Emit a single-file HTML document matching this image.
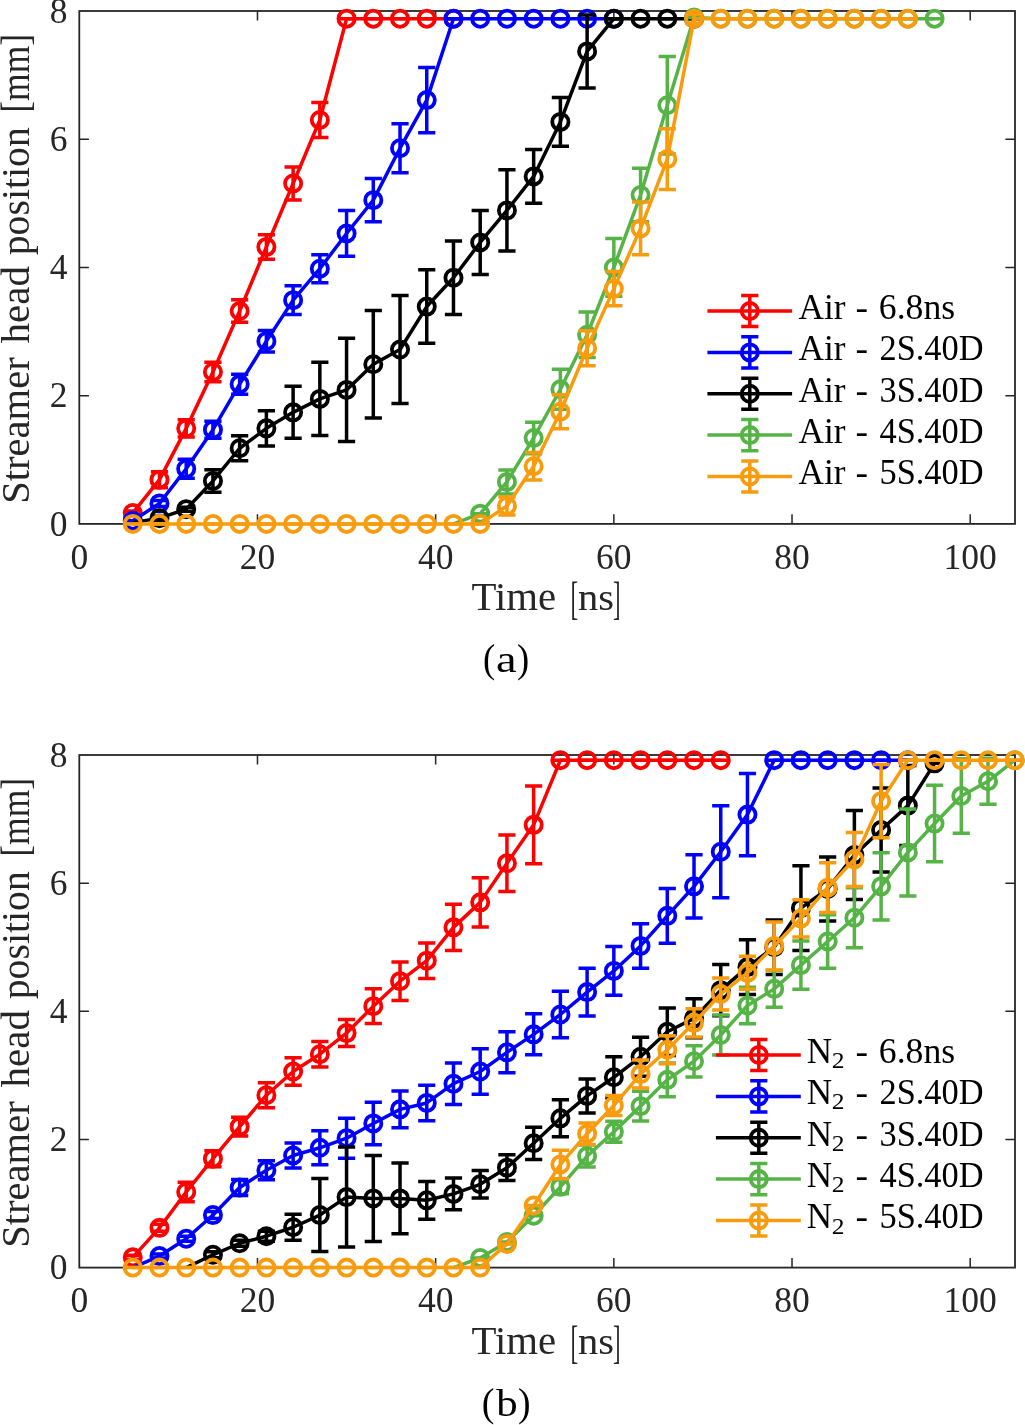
<!DOCTYPE html>
<html><head><meta charset="utf-8"><title>Streamer head position</title><style>
html,body{margin:0;padding:0;background:#fff;width:1025px;height:1425px;overflow:hidden}
svg{display:block;will-change:transform}
text{font-family:'Liberation Serif',serif;fill:#000}
.tk{font-size:35.5px;fill:#262626}
.lb{font-size:38px;fill:#262626}
.lg{font-size:31px}
.sub{font-size:22px}
.cp{font-size:36px}
</style></head><body>
<svg width="1025" height="1425" viewBox="0 0 1025 1425">
<rect width="100%" height="100%" fill="#fff"/>
<rect x="79.3" y="11" width="935.7" height="512.9" fill="none" stroke="#262626" stroke-width="1.8"/>
<path d="M257.48 523.9V514.3M257.48 11V20.6M435.66 523.9V514.3M435.66 11V20.6M613.84 523.9V514.3M613.84 11V20.6M792.02 523.9V514.3M792.02 11V20.6M970.2 523.9V514.3M970.2 11V20.6M79.3 395.67H88.9M1015 395.67H1005.4M79.3 267.45H88.9M1015 267.45H1005.4M79.3 139.23H88.9M1015 139.23H1005.4" stroke="#262626" stroke-width="1.5" fill="none"/>
<text x="79.3" y="568.7" text-anchor="middle" class="tk">0</text>
<text x="257.48" y="568.7" text-anchor="middle" class="tk">20</text>
<text x="435.66" y="568.7" text-anchor="middle" class="tk">40</text>
<text x="613.84" y="568.7" text-anchor="middle" class="tk">60</text>
<text x="792.02" y="568.7" text-anchor="middle" class="tk">80</text>
<text x="970.2" y="568.7" text-anchor="middle" class="tk">100</text>
<text x="67.5" y="535.7" text-anchor="end" class="tk">0</text>
<text x="67.5" y="407.47" text-anchor="end" class="tk">2</text>
<text x="67.5" y="279.25" text-anchor="end" class="tk">4</text>
<text x="67.5" y="151.03" text-anchor="end" class="tk">6</text>
<text x="67.5" y="22.8" text-anchor="end" class="tk">8</text>
<g stroke="#ff0000" fill="none"><path d="M132.75 513 L159.48 479.66 L186.21 428.37 L212.94 371.95 L239.66 311.05 L266.39 246.93 L293.12 183.46 L319.84 119.99 L346.57 18.69 L373.3 18.69 L400.02 18.69 L426.75 18.69 L453.48 18.69" stroke-width="3.5" stroke-linejoin="round"/><path d="M132.75 511V515M124.15 511H141.35M124.15 515H141.35M159.48 471.66V487.66M150.88 471.66H168.08M150.88 487.66H168.08M186.21 419.67V437.07M177.61 419.67H194.81M177.61 437.07H194.81M212.94 362.15V381.75M204.34 362.15H221.53M204.34 381.75H221.53M239.66 299.85V322.25M231.06 299.85H248.26M231.06 322.25H248.26M266.39 234.73V259.13M257.79 234.73H274.99M257.79 259.13H274.99M293.12 166.96V199.96M284.52 166.96H301.72M284.52 199.96H301.72M319.84 102.59V137.39M311.24 102.59H328.44M311.24 137.39H328.44M346.57 18.69V18.69M337.97 18.69H355.17M337.97 18.69H355.17M373.3 18.69V18.69M364.7 18.69H381.9M364.7 18.69H381.9M400.02 18.69V18.69M391.42 18.69H408.62M391.42 18.69H408.62M426.75 18.69V18.69M418.15 18.69H435.35M418.15 18.69H435.35M453.48 18.69V18.69M444.88 18.69H462.08M444.88 18.69H462.08" stroke-width="3.5"/><path d="M124.65 513a8.1 8.1 0 1 0 16.2 0a8.1 8.1 0 1 0 -16.2 0M151.38 479.66a8.1 8.1 0 1 0 16.2 0a8.1 8.1 0 1 0 -16.2 0M178.11 428.37a8.1 8.1 0 1 0 16.2 0a8.1 8.1 0 1 0 -16.2 0M204.84 371.95a8.1 8.1 0 1 0 16.2 0a8.1 8.1 0 1 0 -16.2 0M231.56 311.05a8.1 8.1 0 1 0 16.2 0a8.1 8.1 0 1 0 -16.2 0M258.29 246.93a8.1 8.1 0 1 0 16.2 0a8.1 8.1 0 1 0 -16.2 0M285.02 183.46a8.1 8.1 0 1 0 16.2 0a8.1 8.1 0 1 0 -16.2 0M311.74 119.99a8.1 8.1 0 1 0 16.2 0a8.1 8.1 0 1 0 -16.2 0M338.47 18.69a8.1 8.1 0 1 0 16.2 0a8.1 8.1 0 1 0 -16.2 0M365.2 18.69a8.1 8.1 0 1 0 16.2 0a8.1 8.1 0 1 0 -16.2 0M391.92 18.69a8.1 8.1 0 1 0 16.2 0a8.1 8.1 0 1 0 -16.2 0M418.65 18.69a8.1 8.1 0 1 0 16.2 0a8.1 8.1 0 1 0 -16.2 0M445.38 18.69a8.1 8.1 0 1 0 16.2 0a8.1 8.1 0 1 0 -16.2 0" stroke-width="3.8"/></g>
<g stroke="#0000ff" fill="none"><path d="M132.75 520.69 L159.48 503.38 L186.21 468.76 L212.94 429.65 L239.66 384.13 L266.39 341.18 L293.12 300.15 L319.84 268.73 L346.57 233.47 L373.3 200.13 L400.02 148.2 L426.75 100.12 L453.48 18.69 L480.2 18.69 L506.93 18.69 L533.66 18.69 L560.39 18.69 L587.11 18.69 L613.84 18.69" stroke-width="3.5" stroke-linejoin="round"/><path d="M132.75 520.69V520.69M124.15 520.69H141.35M124.15 520.69H141.35M159.48 500.38V506.38M150.88 500.38H168.08M150.88 506.38H168.08M186.21 459.26V478.26M177.61 459.26H194.81M177.61 478.26H194.81M212.94 421.15V438.15M204.34 421.15H221.53M204.34 438.15H221.53M239.66 374.13V394.13M231.06 374.13H248.26M231.06 394.13H248.26M266.39 330.48V351.88M257.79 330.48H274.99M257.79 351.88H274.99M293.12 285.75V314.55M284.52 285.75H301.72M284.52 314.55H301.72M319.84 254.73V282.73M311.24 254.73H328.44M311.24 282.73H328.44M346.57 210.57V256.37M337.97 210.57H355.17M337.97 256.37H355.17M373.3 178.53V221.73M364.7 178.53H381.9M364.7 221.73H381.9M400.02 123.7V172.7M391.42 123.7H408.62M391.42 172.7H408.62M426.75 67.42V132.82M418.15 67.42H435.35M418.15 132.82H435.35M453.48 18.69V18.69M444.88 18.69H462.08M444.88 18.69H462.08M480.2 18.69V18.69M471.6 18.69H488.81M471.6 18.69H488.81M506.93 18.69V18.69M498.33 18.69H515.53M498.33 18.69H515.53M533.66 18.69V18.69M525.06 18.69H542.26M525.06 18.69H542.26M560.39 18.69V18.69M551.79 18.69H568.99M551.79 18.69H568.99M587.11 18.69V18.69M578.51 18.69H595.71M578.51 18.69H595.71M613.84 18.69V18.69M605.24 18.69H622.44M605.24 18.69H622.44" stroke-width="3.5"/><path d="M124.65 520.69a8.1 8.1 0 1 0 16.2 0a8.1 8.1 0 1 0 -16.2 0M151.38 503.38a8.1 8.1 0 1 0 16.2 0a8.1 8.1 0 1 0 -16.2 0M178.11 468.76a8.1 8.1 0 1 0 16.2 0a8.1 8.1 0 1 0 -16.2 0M204.84 429.65a8.1 8.1 0 1 0 16.2 0a8.1 8.1 0 1 0 -16.2 0M231.56 384.13a8.1 8.1 0 1 0 16.2 0a8.1 8.1 0 1 0 -16.2 0M258.29 341.18a8.1 8.1 0 1 0 16.2 0a8.1 8.1 0 1 0 -16.2 0M285.02 300.15a8.1 8.1 0 1 0 16.2 0a8.1 8.1 0 1 0 -16.2 0M311.74 268.73a8.1 8.1 0 1 0 16.2 0a8.1 8.1 0 1 0 -16.2 0M338.47 233.47a8.1 8.1 0 1 0 16.2 0a8.1 8.1 0 1 0 -16.2 0M365.2 200.13a8.1 8.1 0 1 0 16.2 0a8.1 8.1 0 1 0 -16.2 0M391.92 148.2a8.1 8.1 0 1 0 16.2 0a8.1 8.1 0 1 0 -16.2 0M418.65 100.12a8.1 8.1 0 1 0 16.2 0a8.1 8.1 0 1 0 -16.2 0M445.38 18.69a8.1 8.1 0 1 0 16.2 0a8.1 8.1 0 1 0 -16.2 0M472.1 18.69a8.1 8.1 0 1 0 16.2 0a8.1 8.1 0 1 0 -16.2 0M498.83 18.69a8.1 8.1 0 1 0 16.2 0a8.1 8.1 0 1 0 -16.2 0M525.56 18.69a8.1 8.1 0 1 0 16.2 0a8.1 8.1 0 1 0 -16.2 0M552.29 18.69a8.1 8.1 0 1 0 16.2 0a8.1 8.1 0 1 0 -16.2 0M579.01 18.69a8.1 8.1 0 1 0 16.2 0a8.1 8.1 0 1 0 -16.2 0M605.74 18.69a8.1 8.1 0 1 0 16.2 0a8.1 8.1 0 1 0 -16.2 0" stroke-width="3.8"/></g>
<g stroke="#000000" fill="none"><path d="M132.75 522.62 L159.48 518.13 L186.21 509.15 L212.94 480.94 L239.66 448.25 L266.39 428.37 L293.12 412.34 L319.84 398.88 L346.57 389.9 L373.3 364.26 L400.02 349.51 L426.75 306.56 L453.48 277.71 L480.2 242.45 L506.93 210.39 L533.66 176.41 L560.39 121.91 L587.11 51.39 L613.84 18.69 L640.57 18.69 L667.29 18.69 L694.02 18.69" stroke-width="3.5" stroke-linejoin="round"/><path d="M159.48 516.13V520.13M150.88 516.13H168.08M150.88 520.13H168.08M186.21 507.15V511.15M177.61 507.15H194.81M177.61 511.15H194.81M212.94 469.64V492.24M204.34 469.64H221.53M204.34 492.24H221.53M239.66 435.75V460.75M231.06 435.75H248.26M231.06 460.75H248.26M266.39 410.67V446.07M257.79 410.67H274.99M257.79 446.07H274.99M293.12 386.34V438.34M284.52 386.34H301.72M284.52 438.34H301.72M319.84 362.18V435.58M311.24 362.18H328.44M311.24 435.58H328.44M346.57 338.2V441.6M337.97 338.2H355.17M337.97 441.6H355.17M373.3 310.56V417.96M364.7 310.56H381.9M364.7 417.96H381.9M400.02 295.61V403.41M391.42 295.61H408.62M391.42 403.41H408.62M426.75 269.76V343.36M418.15 269.76H435.35M418.15 343.36H435.35M453.48 240.91V314.51M444.88 240.91H462.08M444.88 314.51H462.08M480.2 210.45V274.45M471.6 210.45H488.81M471.6 274.45H488.81M506.93 169.79V250.99M498.33 169.79H515.53M498.33 250.99H515.53M533.66 149.51V203.31M525.06 149.51H542.26M525.06 203.31H542.26M560.39 97.51V146.31M551.79 97.51H568.99M551.79 146.31H568.99M587.11 14.89V87.89M578.51 14.89H595.71M578.51 87.89H595.71M613.84 18.69V18.69M605.24 18.69H622.44M605.24 18.69H622.44M640.57 18.69V18.69M631.97 18.69H649.17M631.97 18.69H649.17M667.29 18.69V18.69M658.69 18.69H675.89M658.69 18.69H675.89M694.02 18.69V18.69M685.42 18.69H702.62M685.42 18.69H702.62" stroke-width="3.5"/><path d="M151.38 518.13a8.1 8.1 0 1 0 16.2 0a8.1 8.1 0 1 0 -16.2 0M178.11 509.15a8.1 8.1 0 1 0 16.2 0a8.1 8.1 0 1 0 -16.2 0M204.84 480.94a8.1 8.1 0 1 0 16.2 0a8.1 8.1 0 1 0 -16.2 0M231.56 448.25a8.1 8.1 0 1 0 16.2 0a8.1 8.1 0 1 0 -16.2 0M258.29 428.37a8.1 8.1 0 1 0 16.2 0a8.1 8.1 0 1 0 -16.2 0M285.02 412.34a8.1 8.1 0 1 0 16.2 0a8.1 8.1 0 1 0 -16.2 0M311.74 398.88a8.1 8.1 0 1 0 16.2 0a8.1 8.1 0 1 0 -16.2 0M338.47 389.9a8.1 8.1 0 1 0 16.2 0a8.1 8.1 0 1 0 -16.2 0M365.2 364.26a8.1 8.1 0 1 0 16.2 0a8.1 8.1 0 1 0 -16.2 0M391.92 349.51a8.1 8.1 0 1 0 16.2 0a8.1 8.1 0 1 0 -16.2 0M418.65 306.56a8.1 8.1 0 1 0 16.2 0a8.1 8.1 0 1 0 -16.2 0M445.38 277.71a8.1 8.1 0 1 0 16.2 0a8.1 8.1 0 1 0 -16.2 0M472.1 242.45a8.1 8.1 0 1 0 16.2 0a8.1 8.1 0 1 0 -16.2 0M498.83 210.39a8.1 8.1 0 1 0 16.2 0a8.1 8.1 0 1 0 -16.2 0M525.56 176.41a8.1 8.1 0 1 0 16.2 0a8.1 8.1 0 1 0 -16.2 0M552.29 121.91a8.1 8.1 0 1 0 16.2 0a8.1 8.1 0 1 0 -16.2 0M579.01 51.39a8.1 8.1 0 1 0 16.2 0a8.1 8.1 0 1 0 -16.2 0M605.74 18.69a8.1 8.1 0 1 0 16.2 0a8.1 8.1 0 1 0 -16.2 0M632.47 18.69a8.1 8.1 0 1 0 16.2 0a8.1 8.1 0 1 0 -16.2 0M659.19 18.69a8.1 8.1 0 1 0 16.2 0a8.1 8.1 0 1 0 -16.2 0M685.92 18.69a8.1 8.1 0 1 0 16.2 0a8.1 8.1 0 1 0 -16.2 0" stroke-width="3.8"/></g>
<g stroke="#56b447" fill="none"><path d="M453.48 523.9 L480.2 513.64 L506.93 481.91 L533.66 437.99 L560.39 389.26 L587.11 334.77 L613.84 267.45 L640.57 195 L667.29 105.25 L694.02 17.41 L720.75 18.69 L747.47 18.69 L774.2 18.69 L800.93 18.69 L827.66 18.69 L854.38 18.69 L881.11 18.69 L907.84 18.69 L934.56 18.69" stroke-width="3.5" stroke-linejoin="round"/><path d="M480.2 513.64V513.64M471.6 513.64H488.81M471.6 513.64H488.81M506.93 469.91V493.91M498.33 469.91H515.53M498.33 493.91H515.53M533.66 422.29V453.69M525.06 422.29H542.26M525.06 453.69H542.26M560.39 369.26V409.26M551.79 369.26H568.99M551.79 409.26H568.99M587.11 312.07V357.47M578.51 312.07H595.71M578.51 357.47H595.71M613.84 238.55V296.35M605.24 238.55H622.44M605.24 296.35H622.44M640.57 168.2V221.8M631.97 168.2H649.17M631.97 221.8H649.17M667.29 56.45V154.05M658.69 56.45H675.89M658.69 154.05H675.89M694.02 17.41V17.41M685.42 17.41H702.62M685.42 17.41H702.62M720.75 18.69V18.69M712.15 18.69H729.35M712.15 18.69H729.35M747.47 18.69V18.69M738.87 18.69H756.07M738.87 18.69H756.07M774.2 18.69V18.69M765.6 18.69H782.8M765.6 18.69H782.8M800.93 18.69V18.69M792.33 18.69H809.53M792.33 18.69H809.53M827.66 18.69V18.69M819.06 18.69H836.26M819.06 18.69H836.26M854.38 18.69V18.69M845.78 18.69H862.98M845.78 18.69H862.98M881.11 18.69V18.69M872.51 18.69H889.71M872.51 18.69H889.71M907.84 18.69V18.69M899.24 18.69H916.44M899.24 18.69H916.44M934.56 18.69V18.69M925.96 18.69H943.16M925.96 18.69H943.16" stroke-width="3.5"/><path d="M472.1 513.64a8.1 8.1 0 1 0 16.2 0a8.1 8.1 0 1 0 -16.2 0M498.83 481.91a8.1 8.1 0 1 0 16.2 0a8.1 8.1 0 1 0 -16.2 0M525.56 437.99a8.1 8.1 0 1 0 16.2 0a8.1 8.1 0 1 0 -16.2 0M552.29 389.26a8.1 8.1 0 1 0 16.2 0a8.1 8.1 0 1 0 -16.2 0M579.01 334.77a8.1 8.1 0 1 0 16.2 0a8.1 8.1 0 1 0 -16.2 0M605.74 267.45a8.1 8.1 0 1 0 16.2 0a8.1 8.1 0 1 0 -16.2 0M632.47 195a8.1 8.1 0 1 0 16.2 0a8.1 8.1 0 1 0 -16.2 0M659.19 105.25a8.1 8.1 0 1 0 16.2 0a8.1 8.1 0 1 0 -16.2 0M685.92 17.41a8.1 8.1 0 1 0 16.2 0a8.1 8.1 0 1 0 -16.2 0M712.65 18.69a8.1 8.1 0 1 0 16.2 0a8.1 8.1 0 1 0 -16.2 0M739.37 18.69a8.1 8.1 0 1 0 16.2 0a8.1 8.1 0 1 0 -16.2 0M766.1 18.69a8.1 8.1 0 1 0 16.2 0a8.1 8.1 0 1 0 -16.2 0M792.83 18.69a8.1 8.1 0 1 0 16.2 0a8.1 8.1 0 1 0 -16.2 0M819.56 18.69a8.1 8.1 0 1 0 16.2 0a8.1 8.1 0 1 0 -16.2 0M846.28 18.69a8.1 8.1 0 1 0 16.2 0a8.1 8.1 0 1 0 -16.2 0M873.01 18.69a8.1 8.1 0 1 0 16.2 0a8.1 8.1 0 1 0 -16.2 0M899.74 18.69a8.1 8.1 0 1 0 16.2 0a8.1 8.1 0 1 0 -16.2 0M926.46 18.69a8.1 8.1 0 1 0 16.2 0a8.1 8.1 0 1 0 -16.2 0" stroke-width="3.8"/></g>
<g stroke="#f89c0e" fill="none"><path d="M132.75 523.9 L159.48 523.9 L186.21 523.9 L212.94 523.9 L239.66 523.9 L266.39 523.9 L293.12 523.9 L319.84 523.9 L346.57 523.9 L373.3 523.9 L400.02 523.9 L426.75 523.9 L453.48 523.9 L480.2 523.9 L506.93 505.95 L533.66 466.2 L560.39 411.7 L587.11 348.23 L613.84 288.61 L640.57 228.34 L667.29 159.1 L694.02 18.69 L720.75 18.69 L747.47 18.69 L774.2 18.69 L800.93 18.69 L827.66 18.69 L854.38 18.69 L881.11 18.69 L907.84 18.69" stroke-width="3.5" stroke-linejoin="round"/><path d="M132.75 523.9V523.9M124.15 523.9H141.35M124.15 523.9H141.35M159.48 523.9V523.9M150.88 523.9H168.08M150.88 523.9H168.08M186.21 523.9V523.9M177.61 523.9H194.81M177.61 523.9H194.81M212.94 523.9V523.9M204.34 523.9H221.53M204.34 523.9H221.53M239.66 523.9V523.9M231.06 523.9H248.26M231.06 523.9H248.26M266.39 523.9V523.9M257.79 523.9H274.99M257.79 523.9H274.99M293.12 523.9V523.9M284.52 523.9H301.72M284.52 523.9H301.72M319.84 523.9V523.9M311.24 523.9H328.44M311.24 523.9H328.44M346.57 523.9V523.9M337.97 523.9H355.17M337.97 523.9H355.17M373.3 523.9V523.9M364.7 523.9H381.9M364.7 523.9H381.9M400.02 523.9V523.9M391.42 523.9H408.62M391.42 523.9H408.62M426.75 523.9V523.9M418.15 523.9H435.35M418.15 523.9H435.35M453.48 523.9V523.9M444.88 523.9H462.08M444.88 523.9H462.08M480.2 523.9V523.9M471.6 523.9H488.81M471.6 523.9H488.81M506.93 496.95V514.95M498.33 496.95H515.53M498.33 514.95H515.53M533.66 452.4V480M525.06 452.4H542.26M525.06 480H542.26M560.39 394.7V428.7M551.79 394.7H568.99M551.79 428.7H568.99M587.11 330.83V365.63M578.51 330.83H595.71M578.51 365.63H595.71M613.84 271.51V305.71M605.24 271.51H622.44M605.24 305.71H622.44M640.57 202.04V254.64M631.97 202.04H649.17M631.97 254.64H649.17M667.29 128.7V189.5M658.69 128.7H675.89M658.69 189.5H675.89M694.02 14.19V23.19M685.42 14.19H702.62M685.42 23.19H702.62M720.75 18.69V18.69M712.15 18.69H729.35M712.15 18.69H729.35M747.47 18.69V18.69M738.87 18.69H756.07M738.87 18.69H756.07M774.2 18.69V18.69M765.6 18.69H782.8M765.6 18.69H782.8M800.93 18.69V18.69M792.33 18.69H809.53M792.33 18.69H809.53M827.66 18.69V18.69M819.06 18.69H836.26M819.06 18.69H836.26M854.38 18.69V18.69M845.78 18.69H862.98M845.78 18.69H862.98M881.11 18.69V18.69M872.51 18.69H889.71M872.51 18.69H889.71M907.84 18.69V18.69M899.24 18.69H916.44M899.24 18.69H916.44" stroke-width="3.5"/><path d="M124.65 523.9a8.1 8.1 0 1 0 16.2 0a8.1 8.1 0 1 0 -16.2 0M151.38 523.9a8.1 8.1 0 1 0 16.2 0a8.1 8.1 0 1 0 -16.2 0M178.11 523.9a8.1 8.1 0 1 0 16.2 0a8.1 8.1 0 1 0 -16.2 0M204.84 523.9a8.1 8.1 0 1 0 16.2 0a8.1 8.1 0 1 0 -16.2 0M231.56 523.9a8.1 8.1 0 1 0 16.2 0a8.1 8.1 0 1 0 -16.2 0M258.29 523.9a8.1 8.1 0 1 0 16.2 0a8.1 8.1 0 1 0 -16.2 0M285.02 523.9a8.1 8.1 0 1 0 16.2 0a8.1 8.1 0 1 0 -16.2 0M311.74 523.9a8.1 8.1 0 1 0 16.2 0a8.1 8.1 0 1 0 -16.2 0M338.47 523.9a8.1 8.1 0 1 0 16.2 0a8.1 8.1 0 1 0 -16.2 0M365.2 523.9a8.1 8.1 0 1 0 16.2 0a8.1 8.1 0 1 0 -16.2 0M391.92 523.9a8.1 8.1 0 1 0 16.2 0a8.1 8.1 0 1 0 -16.2 0M418.65 523.9a8.1 8.1 0 1 0 16.2 0a8.1 8.1 0 1 0 -16.2 0M445.38 523.9a8.1 8.1 0 1 0 16.2 0a8.1 8.1 0 1 0 -16.2 0M472.1 523.9a8.1 8.1 0 1 0 16.2 0a8.1 8.1 0 1 0 -16.2 0M498.83 505.95a8.1 8.1 0 1 0 16.2 0a8.1 8.1 0 1 0 -16.2 0M525.56 466.2a8.1 8.1 0 1 0 16.2 0a8.1 8.1 0 1 0 -16.2 0M552.29 411.7a8.1 8.1 0 1 0 16.2 0a8.1 8.1 0 1 0 -16.2 0M579.01 348.23a8.1 8.1 0 1 0 16.2 0a8.1 8.1 0 1 0 -16.2 0M605.74 288.61a8.1 8.1 0 1 0 16.2 0a8.1 8.1 0 1 0 -16.2 0M632.47 228.34a8.1 8.1 0 1 0 16.2 0a8.1 8.1 0 1 0 -16.2 0M659.19 159.1a8.1 8.1 0 1 0 16.2 0a8.1 8.1 0 1 0 -16.2 0M685.92 18.69a8.1 8.1 0 1 0 16.2 0a8.1 8.1 0 1 0 -16.2 0M712.65 18.69a8.1 8.1 0 1 0 16.2 0a8.1 8.1 0 1 0 -16.2 0M739.37 18.69a8.1 8.1 0 1 0 16.2 0a8.1 8.1 0 1 0 -16.2 0M766.1 18.69a8.1 8.1 0 1 0 16.2 0a8.1 8.1 0 1 0 -16.2 0M792.83 18.69a8.1 8.1 0 1 0 16.2 0a8.1 8.1 0 1 0 -16.2 0M819.56 18.69a8.1 8.1 0 1 0 16.2 0a8.1 8.1 0 1 0 -16.2 0M846.28 18.69a8.1 8.1 0 1 0 16.2 0a8.1 8.1 0 1 0 -16.2 0M873.01 18.69a8.1 8.1 0 1 0 16.2 0a8.1 8.1 0 1 0 -16.2 0M899.74 18.69a8.1 8.1 0 1 0 16.2 0a8.1 8.1 0 1 0 -16.2 0" stroke-width="3.8"/></g>
<g stroke="#ff0000" fill="none" stroke-width="3.5"><path d="M707.4 311H792.1 M749.8 295.4V326.6 M741.2 295.4H758.4 M741.2 326.6H758.4"/><circle cx="749.8" cy="311" r="8.1" stroke-width="3.8"/></g>
<text x="798.55" y="318.9" textLength="46.91" lengthAdjust="spacingAndGlyphs" style="font-size:35px;fill:#000">Air</text>
<text x="855.59" y="318.9" textLength="12.56" lengthAdjust="spacingAndGlyphs" style="font-size:35px;fill:#000">-</text>
<text x="878.87" y="318.9" textLength="76.33" lengthAdjust="spacingAndGlyphs" style="font-size:35px;fill:#000">6.8ns</text>
<g stroke="#0000ff" fill="none" stroke-width="3.5"><path d="M707.4 352.38H792.1 M749.8 336.77V367.98 M741.2 336.77H758.4 M741.2 367.98H758.4"/><circle cx="749.8" cy="352.38" r="8.1" stroke-width="3.8"/></g>
<text x="798.55" y="360.27" textLength="46.91" lengthAdjust="spacingAndGlyphs" style="font-size:35px;fill:#000">Air</text>
<text x="855.59" y="360.27" textLength="12.56" lengthAdjust="spacingAndGlyphs" style="font-size:35px;fill:#000">-</text>
<text x="879.53" y="360.27" textLength="103.99" lengthAdjust="spacingAndGlyphs" style="font-size:35px;fill:#000">2S.40D</text>
<g stroke="#000000" fill="none" stroke-width="3.5"><path d="M707.4 393.75H792.1 M749.8 378.15V409.35 M741.2 378.15H758.4 M741.2 409.35H758.4"/><circle cx="749.8" cy="393.75" r="8.1" stroke-width="3.8"/></g>
<text x="798.55" y="401.65" textLength="46.91" lengthAdjust="spacingAndGlyphs" style="font-size:35px;fill:#000">Air</text>
<text x="855.59" y="401.65" textLength="12.56" lengthAdjust="spacingAndGlyphs" style="font-size:35px;fill:#000">-</text>
<text x="879.53" y="401.65" textLength="103.99" lengthAdjust="spacingAndGlyphs" style="font-size:35px;fill:#000">3S.40D</text>
<g stroke="#56b447" fill="none" stroke-width="3.5"><path d="M707.4 435.12H792.1 M749.8 419.52V450.73 M741.2 419.52H758.4 M741.2 450.73H758.4"/><circle cx="749.8" cy="435.12" r="8.1" stroke-width="3.8"/></g>
<text x="798.55" y="443.02" textLength="46.91" lengthAdjust="spacingAndGlyphs" style="font-size:35px;fill:#000">Air</text>
<text x="855.59" y="443.02" textLength="12.56" lengthAdjust="spacingAndGlyphs" style="font-size:35px;fill:#000">-</text>
<text x="879.53" y="443.02" textLength="103.99" lengthAdjust="spacingAndGlyphs" style="font-size:35px;fill:#000">4S.40D</text>
<g stroke="#f89c0e" fill="none" stroke-width="3.5"><path d="M707.4 476.5H792.1 M749.8 460.9V492.1 M741.2 460.9H758.4 M741.2 492.1H758.4"/><circle cx="749.8" cy="476.5" r="8.1" stroke-width="3.8"/></g>
<text x="798.55" y="484.4" textLength="46.91" lengthAdjust="spacingAndGlyphs" style="font-size:35px;fill:#000">Air</text>
<text x="855.59" y="484.4" textLength="12.56" lengthAdjust="spacingAndGlyphs" style="font-size:35px;fill:#000">-</text>
<text x="879.53" y="484.4" textLength="103.99" lengthAdjust="spacingAndGlyphs" style="font-size:35px;fill:#000">5S.40D</text>
<text x="471.48" y="610.2" textLength="84.76" lengthAdjust="spacingAndGlyphs" style="font-size:39.5px;fill:#262626">Time</text>
<text x="570.39" y="613.76" textLength="7.68" lengthAdjust="spacingAndGlyphs" style="font-size:46.46px;fill:#262626">[</text>
<text x="577.99" y="610.1" textLength="36" lengthAdjust="spacingAndGlyphs" style="font-size:37.4px;fill:#262626">ns</text>
<text x="612.99" y="613.76" textLength="7.57" lengthAdjust="spacingAndGlyphs" style="font-size:46.46px;fill:#262626">]</text>
<text transform="translate(28.6 503.84) rotate(-90)" textLength="146.52" lengthAdjust="spacingAndGlyphs" style="font-size:41px;fill:#262626">Streamer</text>
<text transform="translate(28.6 343.41) rotate(-90)" textLength="77.33" lengthAdjust="spacingAndGlyphs" style="font-size:41px;fill:#262626">head</text>
<text transform="translate(28.6 255.29) rotate(-90)" textLength="128.1" lengthAdjust="spacingAndGlyphs" style="font-size:41px;fill:#262626">position</text>
<text transform="translate(28.6 112.79) rotate(-90)" textLength="78.94" lengthAdjust="spacingAndGlyphs" style="font-size:41px;fill:#262626">[mm]</text>
<text x="483.04" y="672" textLength="12.17" lengthAdjust="spacingAndGlyphs" style="font-size:41px;fill:#000">(</text>
<text x="517" y="672" textLength="12.17" lengthAdjust="spacingAndGlyphs" style="font-size:41px;fill:#000">)</text>
<text x="495.94" y="672" textLength="20.6" lengthAdjust="spacingAndGlyphs" style="font-size:37px;fill:#000">a</text>
<rect x="79.3" y="755" width="935.7" height="512.6" fill="none" stroke="#262626" stroke-width="1.8"/>
<path d="M257.48 1267.6V1258M257.48 755V764.6M435.66 1267.6V1258M435.66 755V764.6M613.84 1267.6V1258M613.84 755V764.6M792.02 1267.6V1258M792.02 755V764.6M970.2 1267.6V1258M970.2 755V764.6M79.3 1139.45H88.9M1015 1139.45H1005.4M79.3 1011.3H88.9M1015 1011.3H1005.4M79.3 883.15H88.9M1015 883.15H1005.4" stroke="#262626" stroke-width="1.5" fill="none"/>
<text x="79.3" y="1312.4" text-anchor="middle" class="tk">0</text>
<text x="257.48" y="1312.4" text-anchor="middle" class="tk">20</text>
<text x="435.66" y="1312.4" text-anchor="middle" class="tk">40</text>
<text x="613.84" y="1312.4" text-anchor="middle" class="tk">60</text>
<text x="792.02" y="1312.4" text-anchor="middle" class="tk">80</text>
<text x="970.2" y="1312.4" text-anchor="middle" class="tk">100</text>
<text x="67.5" y="1279.4" text-anchor="end" class="tk">0</text>
<text x="67.5" y="1151.25" text-anchor="end" class="tk">2</text>
<text x="67.5" y="1023.1" text-anchor="end" class="tk">4</text>
<text x="67.5" y="894.95" text-anchor="end" class="tk">6</text>
<text x="67.5" y="766.8" text-anchor="end" class="tk">8</text>
<g stroke="#ff0000" fill="none"><path d="M132.75 1257.35 L159.48 1227.87 L186.21 1191.99 L212.94 1158.67 L239.66 1126.63 L266.39 1095.24 L293.12 1071.53 L319.84 1054.23 L346.57 1033.09 L373.3 1006.17 L400.02 981.18 L426.75 960.68 L453.48 927.36 L480.2 902.37 L506.93 863.29 L533.66 824.84 L560.39 760.13 L587.11 760.13 L613.84 760.13 L640.57 760.13 L667.29 760.13 L694.02 760.13 L720.75 760.13" stroke-width="3.5" stroke-linejoin="round"/><path d="M132.75 1255.35V1259.35M124.15 1255.35H141.35M124.15 1259.35H141.35M159.48 1224.37V1231.37M150.88 1224.37H168.08M150.88 1231.37H168.08M186.21 1182.19V1201.79M177.61 1182.19H194.81M177.61 1201.79H194.81M212.94 1150.67V1166.67M204.34 1150.67H221.53M204.34 1166.67H221.53M239.66 1117.23V1136.04M231.06 1117.23H248.26M231.06 1136.04H248.26M266.39 1082.84V1107.64M257.79 1082.84H274.99M257.79 1107.64H274.99M293.12 1057.73V1085.33M284.52 1057.73H301.72M284.52 1085.33H301.72M319.84 1041.43V1067.03M311.24 1041.43H328.44M311.24 1067.03H328.44M346.57 1019.59V1046.59M337.97 1019.59H355.17M337.97 1046.59H355.17M373.3 988.87V1023.47M364.7 988.87H381.9M364.7 1023.47H381.9M400.02 961.88V1000.48M391.42 961.88H408.62M391.42 1000.48H408.62M426.75 942.88V978.48M418.15 942.88H435.35M418.15 978.48H435.35M453.48 904.16V950.56M444.88 904.16H462.08M444.88 950.56H462.08M480.2 877.67V927.07M471.6 877.67H488.81M471.6 927.07H488.81M506.93 834.99V891.59M498.33 834.99H515.53M498.33 891.59H515.53M533.66 786.04V863.64M525.06 786.04H542.26M525.06 863.64H542.26M560.39 760.13V760.13M551.79 760.13H568.99M551.79 760.13H568.99M587.11 760.13V760.13M578.51 760.13H595.71M578.51 760.13H595.71M613.84 760.13V760.13M605.24 760.13H622.44M605.24 760.13H622.44M640.57 760.13V760.13M631.97 760.13H649.17M631.97 760.13H649.17M667.29 760.13V760.13M658.69 760.13H675.89M658.69 760.13H675.89M694.02 760.13V760.13M685.42 760.13H702.62M685.42 760.13H702.62M720.75 760.13V760.13M712.15 760.13H729.35M712.15 760.13H729.35" stroke-width="3.5"/><path d="M124.65 1257.35a8.1 8.1 0 1 0 16.2 0a8.1 8.1 0 1 0 -16.2 0M151.38 1227.87a8.1 8.1 0 1 0 16.2 0a8.1 8.1 0 1 0 -16.2 0M178.11 1191.99a8.1 8.1 0 1 0 16.2 0a8.1 8.1 0 1 0 -16.2 0M204.84 1158.67a8.1 8.1 0 1 0 16.2 0a8.1 8.1 0 1 0 -16.2 0M231.56 1126.63a8.1 8.1 0 1 0 16.2 0a8.1 8.1 0 1 0 -16.2 0M258.29 1095.24a8.1 8.1 0 1 0 16.2 0a8.1 8.1 0 1 0 -16.2 0M285.02 1071.53a8.1 8.1 0 1 0 16.2 0a8.1 8.1 0 1 0 -16.2 0M311.74 1054.23a8.1 8.1 0 1 0 16.2 0a8.1 8.1 0 1 0 -16.2 0M338.47 1033.09a8.1 8.1 0 1 0 16.2 0a8.1 8.1 0 1 0 -16.2 0M365.2 1006.17a8.1 8.1 0 1 0 16.2 0a8.1 8.1 0 1 0 -16.2 0M391.92 981.18a8.1 8.1 0 1 0 16.2 0a8.1 8.1 0 1 0 -16.2 0M418.65 960.68a8.1 8.1 0 1 0 16.2 0a8.1 8.1 0 1 0 -16.2 0M445.38 927.36a8.1 8.1 0 1 0 16.2 0a8.1 8.1 0 1 0 -16.2 0M472.1 902.37a8.1 8.1 0 1 0 16.2 0a8.1 8.1 0 1 0 -16.2 0M498.83 863.29a8.1 8.1 0 1 0 16.2 0a8.1 8.1 0 1 0 -16.2 0M525.56 824.84a8.1 8.1 0 1 0 16.2 0a8.1 8.1 0 1 0 -16.2 0M552.29 760.13a8.1 8.1 0 1 0 16.2 0a8.1 8.1 0 1 0 -16.2 0M579.01 760.13a8.1 8.1 0 1 0 16.2 0a8.1 8.1 0 1 0 -16.2 0M605.74 760.13a8.1 8.1 0 1 0 16.2 0a8.1 8.1 0 1 0 -16.2 0M632.47 760.13a8.1 8.1 0 1 0 16.2 0a8.1 8.1 0 1 0 -16.2 0M659.19 760.13a8.1 8.1 0 1 0 16.2 0a8.1 8.1 0 1 0 -16.2 0M685.92 760.13a8.1 8.1 0 1 0 16.2 0a8.1 8.1 0 1 0 -16.2 0M712.65 760.13a8.1 8.1 0 1 0 16.2 0a8.1 8.1 0 1 0 -16.2 0" stroke-width="3.8"/></g>
<g stroke="#0000ff" fill="none"><path d="M132.75 1267.6 L159.48 1256.07 L186.21 1238.77 L212.94 1215.06 L239.66 1187.51 L266.39 1170.21 L293.12 1155.47 L319.84 1147.78 L346.57 1138.17 L373.3 1123.43 L400.02 1109.33 L426.75 1102.93 L453.48 1083.7 L480.2 1071.53 L506.93 1052.31 L533.66 1034.37 L560.39 1014.5 L587.11 992.08 L613.84 970.93 L640.57 945.94 L667.29 915.83 L694.02 886.35 L720.75 851.75 L747.47 814.59 L774.2 760.13 L800.93 760.13 L827.66 760.13 L854.38 760.13 L881.11 760.13 L907.84 760.13" stroke-width="3.5" stroke-linejoin="round"/><path d="M159.48 1254.07V1258.07M150.88 1254.07H168.08M150.88 1258.07H168.08M186.21 1236.27V1241.27M177.61 1236.27H194.81M177.61 1241.27H194.81M212.94 1211.56V1218.56M204.34 1211.56H221.53M204.34 1218.56H221.53M239.66 1179.51V1195.51M231.06 1179.51H248.26M231.06 1195.51H248.26M266.39 1160.71V1179.71M257.79 1160.71H274.99M257.79 1179.71H274.99M293.12 1142.97V1167.97M284.52 1142.97H301.72M284.52 1167.97H301.72M319.84 1130.78V1164.78M311.24 1130.78H328.44M311.24 1164.78H328.44M346.57 1118.17V1158.17M337.97 1118.17H355.17M337.97 1158.17H355.17M373.3 1102.13V1144.73M364.7 1102.13H381.9M364.7 1144.73H381.9M400.02 1091.03V1127.63M391.42 1091.03H408.62M391.42 1127.63H408.62M426.75 1085.23V1120.63M418.15 1085.23H435.35M418.15 1120.63H435.35M453.48 1063V1104.4M444.88 1063H462.08M444.88 1104.4H462.08M480.2 1048.73V1094.33M471.6 1048.73H488.81M471.6 1094.33H488.81M506.93 1031.81V1072.81M498.33 1031.81H515.53M498.33 1072.81H515.53M533.66 1013.87V1054.87M525.06 1013.87H542.26M525.06 1054.87H542.26M560.39 991.3V1037.7M551.79 991.3H568.99M551.79 1037.7H568.99M587.11 968.28V1015.88M578.51 968.28H595.71M578.51 1015.88H595.71M613.84 946.53V995.33M605.24 946.53H622.44M605.24 995.33H622.44M640.57 923.74V968.14M631.97 923.74H649.17M631.97 968.14H649.17M667.29 888.53V943.13M658.69 888.53H675.89M658.69 943.13H675.89M694.02 854.65V918.05M685.42 854.65H702.62M685.42 918.05H702.62M720.75 805.75V897.75M712.15 805.75H729.35M712.15 897.75H729.35M747.47 773.49V855.69M738.87 773.49H756.07M738.87 855.69H756.07M774.2 760.13V760.13M765.6 760.13H782.8M765.6 760.13H782.8M800.93 760.13V760.13M792.33 760.13H809.53M792.33 760.13H809.53M827.66 760.13V760.13M819.06 760.13H836.26M819.06 760.13H836.26M854.38 760.13V760.13M845.78 760.13H862.98M845.78 760.13H862.98M881.11 760.13V760.13M872.51 760.13H889.71M872.51 760.13H889.71M907.84 760.13V760.13M899.24 760.13H916.44M899.24 760.13H916.44" stroke-width="3.5"/><path d="M151.38 1256.07a8.1 8.1 0 1 0 16.2 0a8.1 8.1 0 1 0 -16.2 0M178.11 1238.77a8.1 8.1 0 1 0 16.2 0a8.1 8.1 0 1 0 -16.2 0M204.84 1215.06a8.1 8.1 0 1 0 16.2 0a8.1 8.1 0 1 0 -16.2 0M231.56 1187.51a8.1 8.1 0 1 0 16.2 0a8.1 8.1 0 1 0 -16.2 0M258.29 1170.21a8.1 8.1 0 1 0 16.2 0a8.1 8.1 0 1 0 -16.2 0M285.02 1155.47a8.1 8.1 0 1 0 16.2 0a8.1 8.1 0 1 0 -16.2 0M311.74 1147.78a8.1 8.1 0 1 0 16.2 0a8.1 8.1 0 1 0 -16.2 0M338.47 1138.17a8.1 8.1 0 1 0 16.2 0a8.1 8.1 0 1 0 -16.2 0M365.2 1123.43a8.1 8.1 0 1 0 16.2 0a8.1 8.1 0 1 0 -16.2 0M391.92 1109.33a8.1 8.1 0 1 0 16.2 0a8.1 8.1 0 1 0 -16.2 0M418.65 1102.93a8.1 8.1 0 1 0 16.2 0a8.1 8.1 0 1 0 -16.2 0M445.38 1083.7a8.1 8.1 0 1 0 16.2 0a8.1 8.1 0 1 0 -16.2 0M472.1 1071.53a8.1 8.1 0 1 0 16.2 0a8.1 8.1 0 1 0 -16.2 0M498.83 1052.31a8.1 8.1 0 1 0 16.2 0a8.1 8.1 0 1 0 -16.2 0M525.56 1034.37a8.1 8.1 0 1 0 16.2 0a8.1 8.1 0 1 0 -16.2 0M552.29 1014.5a8.1 8.1 0 1 0 16.2 0a8.1 8.1 0 1 0 -16.2 0M579.01 992.08a8.1 8.1 0 1 0 16.2 0a8.1 8.1 0 1 0 -16.2 0M605.74 970.93a8.1 8.1 0 1 0 16.2 0a8.1 8.1 0 1 0 -16.2 0M632.47 945.94a8.1 8.1 0 1 0 16.2 0a8.1 8.1 0 1 0 -16.2 0M659.19 915.83a8.1 8.1 0 1 0 16.2 0a8.1 8.1 0 1 0 -16.2 0M685.92 886.35a8.1 8.1 0 1 0 16.2 0a8.1 8.1 0 1 0 -16.2 0M712.65 851.75a8.1 8.1 0 1 0 16.2 0a8.1 8.1 0 1 0 -16.2 0M739.37 814.59a8.1 8.1 0 1 0 16.2 0a8.1 8.1 0 1 0 -16.2 0M766.1 760.13a8.1 8.1 0 1 0 16.2 0a8.1 8.1 0 1 0 -16.2 0M792.83 760.13a8.1 8.1 0 1 0 16.2 0a8.1 8.1 0 1 0 -16.2 0M819.56 760.13a8.1 8.1 0 1 0 16.2 0a8.1 8.1 0 1 0 -16.2 0M846.28 760.13a8.1 8.1 0 1 0 16.2 0a8.1 8.1 0 1 0 -16.2 0M873.01 760.13a8.1 8.1 0 1 0 16.2 0a8.1 8.1 0 1 0 -16.2 0M899.74 760.13a8.1 8.1 0 1 0 16.2 0a8.1 8.1 0 1 0 -16.2 0" stroke-width="3.8"/></g>
<g stroke="#000000" fill="none"><path d="M186.21 1267.6 L212.94 1254.78 L239.66 1243.25 L266.39 1236.2 L293.12 1227.23 L319.84 1215.06 L346.57 1197.12 L373.3 1198.4 L400.02 1198.4 L426.75 1200.32 L453.48 1193.91 L480.2 1184.3 L506.93 1167.64 L533.66 1143.29 L560.39 1118.31 L587.11 1095.88 L613.84 1077.3 L640.57 1056.79 L667.29 1031.8 L694.02 1018.35 L720.75 990.16 L747.47 967.09 L774.2 947.22 L800.93 908.14 L827.66 888.92 L854.38 854.96 L881.11 829.97 L907.84 805.62 L934.56 763.33" stroke-width="3.5" stroke-linejoin="round"/><path d="M212.94 1251.78V1257.78M204.34 1251.78H221.53M204.34 1257.78H221.53M239.66 1240.25V1246.25M231.06 1240.25H248.26M231.06 1246.25H248.26M266.39 1231.2V1241.2M257.79 1231.2H274.99M257.79 1241.2H274.99M293.12 1214.23V1240.23M284.52 1214.23H301.72M284.52 1240.23H301.72M319.84 1178.56V1251.56M311.24 1178.56H328.44M311.24 1251.56H328.44M346.57 1147.12V1247.12M337.97 1147.12H355.17M337.97 1247.12H355.17M373.3 1155.4V1241.4M364.7 1155.4H381.9M364.7 1241.4H381.9M400.02 1163V1233.8M391.42 1163H408.62M391.42 1233.8H408.62M426.75 1181.42V1219.22M418.15 1181.42H435.35M418.15 1219.22H435.35M453.48 1178.01V1209.81M444.88 1178.01H462.08M444.88 1209.81H462.08M480.2 1170.6V1198M471.6 1170.6H488.81M471.6 1198H488.81M506.93 1154.84V1180.44M498.33 1154.84H515.53M498.33 1180.44H515.53M533.66 1127.19V1159.39M525.06 1127.19H542.26M525.06 1159.39H542.26M560.39 1099.81V1136.81M551.79 1099.81H568.99M551.79 1136.81H568.99M587.11 1078.88V1112.88M578.51 1078.88H595.71M578.51 1112.88H595.71M613.84 1056.8V1097.8M605.24 1056.8H622.44M605.24 1097.8H622.44M640.57 1037.29V1076.29M631.97 1037.29H649.17M631.97 1076.29H649.17M667.29 1008V1055.6M658.69 1008H675.89M658.69 1055.6H675.89M694.02 998.85V1037.85M685.42 998.85H702.62M685.42 1037.85H702.62M720.75 964.56V1015.76M712.15 964.56H729.35M712.15 1015.76H729.35M747.47 939.79V994.39M738.87 939.79H756.07M738.87 994.39H756.07M774.2 919.92V974.52M765.6 919.92H782.8M765.6 974.52H782.8M800.93 865.84V950.44M792.33 865.84H809.53M792.33 950.44H809.53M827.66 856.92V920.92M819.06 856.92H836.26M819.06 920.92H836.26M854.38 810.46V899.46M845.78 810.46H862.98M845.78 899.46H862.98M881.11 787.97V871.97M872.51 787.97H889.71M872.51 871.97H889.71M907.84 765.62V845.62M899.24 765.62H916.44M899.24 845.62H916.44M934.56 763.33V763.33M925.96 763.33H943.16M925.96 763.33H943.16" stroke-width="3.5"/><path d="M204.84 1254.78a8.1 8.1 0 1 0 16.2 0a8.1 8.1 0 1 0 -16.2 0M231.56 1243.25a8.1 8.1 0 1 0 16.2 0a8.1 8.1 0 1 0 -16.2 0M258.29 1236.2a8.1 8.1 0 1 0 16.2 0a8.1 8.1 0 1 0 -16.2 0M285.02 1227.23a8.1 8.1 0 1 0 16.2 0a8.1 8.1 0 1 0 -16.2 0M311.74 1215.06a8.1 8.1 0 1 0 16.2 0a8.1 8.1 0 1 0 -16.2 0M338.47 1197.12a8.1 8.1 0 1 0 16.2 0a8.1 8.1 0 1 0 -16.2 0M365.2 1198.4a8.1 8.1 0 1 0 16.2 0a8.1 8.1 0 1 0 -16.2 0M391.92 1198.4a8.1 8.1 0 1 0 16.2 0a8.1 8.1 0 1 0 -16.2 0M418.65 1200.32a8.1 8.1 0 1 0 16.2 0a8.1 8.1 0 1 0 -16.2 0M445.38 1193.91a8.1 8.1 0 1 0 16.2 0a8.1 8.1 0 1 0 -16.2 0M472.1 1184.3a8.1 8.1 0 1 0 16.2 0a8.1 8.1 0 1 0 -16.2 0M498.83 1167.64a8.1 8.1 0 1 0 16.2 0a8.1 8.1 0 1 0 -16.2 0M525.56 1143.29a8.1 8.1 0 1 0 16.2 0a8.1 8.1 0 1 0 -16.2 0M552.29 1118.31a8.1 8.1 0 1 0 16.2 0a8.1 8.1 0 1 0 -16.2 0M579.01 1095.88a8.1 8.1 0 1 0 16.2 0a8.1 8.1 0 1 0 -16.2 0M605.74 1077.3a8.1 8.1 0 1 0 16.2 0a8.1 8.1 0 1 0 -16.2 0M632.47 1056.79a8.1 8.1 0 1 0 16.2 0a8.1 8.1 0 1 0 -16.2 0M659.19 1031.8a8.1 8.1 0 1 0 16.2 0a8.1 8.1 0 1 0 -16.2 0M685.92 1018.35a8.1 8.1 0 1 0 16.2 0a8.1 8.1 0 1 0 -16.2 0M712.65 990.16a8.1 8.1 0 1 0 16.2 0a8.1 8.1 0 1 0 -16.2 0M739.37 967.09a8.1 8.1 0 1 0 16.2 0a8.1 8.1 0 1 0 -16.2 0M766.1 947.22a8.1 8.1 0 1 0 16.2 0a8.1 8.1 0 1 0 -16.2 0M792.83 908.14a8.1 8.1 0 1 0 16.2 0a8.1 8.1 0 1 0 -16.2 0M819.56 888.92a8.1 8.1 0 1 0 16.2 0a8.1 8.1 0 1 0 -16.2 0M846.28 854.96a8.1 8.1 0 1 0 16.2 0a8.1 8.1 0 1 0 -16.2 0M873.01 829.97a8.1 8.1 0 1 0 16.2 0a8.1 8.1 0 1 0 -16.2 0M899.74 805.62a8.1 8.1 0 1 0 16.2 0a8.1 8.1 0 1 0 -16.2 0M926.46 763.33a8.1 8.1 0 1 0 16.2 0a8.1 8.1 0 1 0 -16.2 0" stroke-width="3.8"/></g>
<g stroke="#56b447" fill="none"><path d="M453.48 1267.6 L480.2 1257.99 L506.93 1241.97 L533.66 1215.7 L560.39 1186.87 L587.11 1156.11 L613.84 1131.76 L640.57 1106.13 L667.29 1079.86 L694.02 1061.28 L720.75 1035.01 L747.47 1005.53 L774.2 988.87 L800.93 965.17 L827.66 941.46 L854.38 917.75 L881.11 886.35 L907.84 852.39 L934.56 823.56 L961.29 796.01 L988.02 781.27 L1014.74 760.13" stroke-width="3.5" stroke-linejoin="round"/><path d="M480.2 1257.99V1257.99M471.6 1257.99H488.81M471.6 1257.99H488.81M506.93 1241.97V1241.97M498.33 1241.97H515.53M498.33 1241.97H515.53M533.66 1215.7V1215.7M525.06 1215.7H542.26M525.06 1215.7H542.26M560.39 1179.87V1193.87M551.79 1179.87H568.99M551.79 1193.87H568.99M587.11 1145.11V1167.11M578.51 1145.11H595.71M578.51 1167.11H595.71M613.84 1121.26V1142.26M605.24 1121.26H622.44M605.24 1142.26H622.44M640.57 1091.23V1121.03M631.97 1091.23H649.17M631.97 1121.03H649.17M667.29 1062.96V1096.76M658.69 1062.96H675.89M658.69 1096.76H675.89M694.02 1045.68V1076.88M685.42 1045.68H702.62M685.42 1076.88H702.62M720.75 1015.01V1055.01M712.15 1015.01H729.35M712.15 1055.01H729.35M747.47 987.23V1023.83M738.87 987.23H756.07M738.87 1023.83H756.07M774.2 970.57V1007.17M765.6 970.57H782.8M765.6 1007.17H782.8M800.93 941.07V989.27M792.33 941.07H809.53M792.33 989.27H809.53M827.66 914.66V968.26M819.06 914.66H836.26M819.06 968.26H836.26M854.38 887.75V947.75M845.78 887.75H862.98M845.78 947.75H862.98M881.11 852.65V920.05M872.51 852.65H889.71M872.51 920.05H889.71M907.84 808.89V895.89M899.24 808.89H916.44M899.24 895.89H916.44M934.56 785.36V861.76M925.96 785.36H943.16M925.96 861.76H943.16M961.29 758.81V833.21M952.69 758.81H969.89M952.69 833.21H969.89M988.02 758.27V804.27M979.42 758.27H996.62M979.42 804.27H996.62M1014.74 760.13V760.13M1006.14 760.13H1023.34M1006.14 760.13H1023.34" stroke-width="3.5"/><path d="M472.1 1257.99a8.1 8.1 0 1 0 16.2 0a8.1 8.1 0 1 0 -16.2 0M498.83 1241.97a8.1 8.1 0 1 0 16.2 0a8.1 8.1 0 1 0 -16.2 0M525.56 1215.7a8.1 8.1 0 1 0 16.2 0a8.1 8.1 0 1 0 -16.2 0M552.29 1186.87a8.1 8.1 0 1 0 16.2 0a8.1 8.1 0 1 0 -16.2 0M579.01 1156.11a8.1 8.1 0 1 0 16.2 0a8.1 8.1 0 1 0 -16.2 0M605.74 1131.76a8.1 8.1 0 1 0 16.2 0a8.1 8.1 0 1 0 -16.2 0M632.47 1106.13a8.1 8.1 0 1 0 16.2 0a8.1 8.1 0 1 0 -16.2 0M659.19 1079.86a8.1 8.1 0 1 0 16.2 0a8.1 8.1 0 1 0 -16.2 0M685.92 1061.28a8.1 8.1 0 1 0 16.2 0a8.1 8.1 0 1 0 -16.2 0M712.65 1035.01a8.1 8.1 0 1 0 16.2 0a8.1 8.1 0 1 0 -16.2 0M739.37 1005.53a8.1 8.1 0 1 0 16.2 0a8.1 8.1 0 1 0 -16.2 0M766.1 988.87a8.1 8.1 0 1 0 16.2 0a8.1 8.1 0 1 0 -16.2 0M792.83 965.17a8.1 8.1 0 1 0 16.2 0a8.1 8.1 0 1 0 -16.2 0M819.56 941.46a8.1 8.1 0 1 0 16.2 0a8.1 8.1 0 1 0 -16.2 0M846.28 917.75a8.1 8.1 0 1 0 16.2 0a8.1 8.1 0 1 0 -16.2 0M873.01 886.35a8.1 8.1 0 1 0 16.2 0a8.1 8.1 0 1 0 -16.2 0M899.74 852.39a8.1 8.1 0 1 0 16.2 0a8.1 8.1 0 1 0 -16.2 0M926.46 823.56a8.1 8.1 0 1 0 16.2 0a8.1 8.1 0 1 0 -16.2 0M953.19 796.01a8.1 8.1 0 1 0 16.2 0a8.1 8.1 0 1 0 -16.2 0M979.92 781.27a8.1 8.1 0 1 0 16.2 0a8.1 8.1 0 1 0 -16.2 0M1006.64 760.13a8.1 8.1 0 1 0 16.2 0a8.1 8.1 0 1 0 -16.2 0" stroke-width="3.8"/></g>
<g stroke="#f89c0e" fill="none"><path d="M132.75 1267.6 L159.48 1267.6 L186.21 1267.6 L212.94 1267.6 L239.66 1267.6 L266.39 1267.6 L293.12 1267.6 L319.84 1267.6 L346.57 1267.6 L373.3 1267.6 L400.02 1267.6 L426.75 1267.6 L453.48 1267.6 L480.2 1267.6 L506.93 1243.89 L533.66 1205.45 L560.39 1164.44 L587.11 1133.68 L613.84 1105.49 L640.57 1074.09 L667.29 1049.74 L694.02 1022.83 L720.75 994 L747.47 972.86 L774.2 945.94 L800.93 918.39 L827.66 887.64 L854.38 859.44 L881.11 801.13 L907.84 760.13 L934.56 760.13 L961.29 760.13 L988.02 760.13 L1014.74 760.13" stroke-width="3.5" stroke-linejoin="round"/><path d="M132.75 1267.6V1267.6M124.15 1267.6H141.35M124.15 1267.6H141.35M159.48 1267.6V1267.6M150.88 1267.6H168.08M150.88 1267.6H168.08M186.21 1267.6V1267.6M177.61 1267.6H194.81M177.61 1267.6H194.81M212.94 1267.6V1267.6M204.34 1267.6H221.53M204.34 1267.6H221.53M239.66 1267.6V1267.6M231.06 1267.6H248.26M231.06 1267.6H248.26M266.39 1267.6V1267.6M257.79 1267.6H274.99M257.79 1267.6H274.99M293.12 1267.6V1267.6M284.52 1267.6H301.72M284.52 1267.6H301.72M319.84 1267.6V1267.6M311.24 1267.6H328.44M311.24 1267.6H328.44M346.57 1267.6V1267.6M337.97 1267.6H355.17M337.97 1267.6H355.17M373.3 1267.6V1267.6M364.7 1267.6H381.9M364.7 1267.6H381.9M400.02 1267.6V1267.6M391.42 1267.6H408.62M391.42 1267.6H408.62M426.75 1267.6V1267.6M418.15 1267.6H435.35M418.15 1267.6H435.35M453.48 1267.6V1267.6M444.88 1267.6H462.08M444.88 1267.6H462.08M480.2 1267.6V1267.6M471.6 1267.6H488.81M471.6 1267.6H488.81M506.93 1243.89V1243.89M498.33 1243.89H515.53M498.33 1243.89H515.53M533.66 1205.45V1205.45M525.06 1205.45H542.26M525.06 1205.45H542.26M560.39 1150.24V1178.64M551.79 1150.24H568.99M551.79 1178.64H568.99M587.11 1122.98V1144.38M578.51 1122.98H595.71M578.51 1144.38H595.71M613.84 1095.49V1115.49M605.24 1095.49H622.44M605.24 1115.49H622.44M640.57 1060.09V1088.09M631.97 1060.09H649.17M631.97 1088.09H649.17M667.29 1035.74V1063.74M658.69 1035.74H675.89M658.69 1063.74H675.89M694.02 1008.63V1037.03M685.42 1008.63H702.62M685.42 1037.03H702.62M720.75 978.1V1009.9M712.15 978.1H729.35M712.15 1009.9H729.35M747.47 956.36V989.36M738.87 956.36H756.07M738.87 989.36H756.07M774.2 921.94V969.94M765.6 921.94H782.8M765.6 969.94H782.8M800.93 899.69V937.09M792.33 899.69H809.53M792.33 937.09H809.53M827.66 862.84V912.44M819.06 862.84H836.26M819.06 912.44H836.26M854.38 832.44V886.44M845.78 832.44H862.98M845.78 886.44H862.98M881.11 764.53V837.73M872.51 764.53H889.71M872.51 837.73H889.71M907.84 760.13V760.13M899.24 760.13H916.44M899.24 760.13H916.44M934.56 760.13V760.13M925.96 760.13H943.16M925.96 760.13H943.16M961.29 760.13V760.13M952.69 760.13H969.89M952.69 760.13H969.89M988.02 760.13V760.13M979.42 760.13H996.62M979.42 760.13H996.62M1014.74 760.13V760.13M1006.14 760.13H1023.34M1006.14 760.13H1023.34" stroke-width="3.5"/><path d="M124.65 1267.6a8.1 8.1 0 1 0 16.2 0a8.1 8.1 0 1 0 -16.2 0M151.38 1267.6a8.1 8.1 0 1 0 16.2 0a8.1 8.1 0 1 0 -16.2 0M178.11 1267.6a8.1 8.1 0 1 0 16.2 0a8.1 8.1 0 1 0 -16.2 0M204.84 1267.6a8.1 8.1 0 1 0 16.2 0a8.1 8.1 0 1 0 -16.2 0M231.56 1267.6a8.1 8.1 0 1 0 16.2 0a8.1 8.1 0 1 0 -16.2 0M258.29 1267.6a8.1 8.1 0 1 0 16.2 0a8.1 8.1 0 1 0 -16.2 0M285.02 1267.6a8.1 8.1 0 1 0 16.2 0a8.1 8.1 0 1 0 -16.2 0M311.74 1267.6a8.1 8.1 0 1 0 16.2 0a8.1 8.1 0 1 0 -16.2 0M338.47 1267.6a8.1 8.1 0 1 0 16.2 0a8.1 8.1 0 1 0 -16.2 0M365.2 1267.6a8.1 8.1 0 1 0 16.2 0a8.1 8.1 0 1 0 -16.2 0M391.92 1267.6a8.1 8.1 0 1 0 16.2 0a8.1 8.1 0 1 0 -16.2 0M418.65 1267.6a8.1 8.1 0 1 0 16.2 0a8.1 8.1 0 1 0 -16.2 0M445.38 1267.6a8.1 8.1 0 1 0 16.2 0a8.1 8.1 0 1 0 -16.2 0M472.1 1267.6a8.1 8.1 0 1 0 16.2 0a8.1 8.1 0 1 0 -16.2 0M498.83 1243.89a8.1 8.1 0 1 0 16.2 0a8.1 8.1 0 1 0 -16.2 0M525.56 1205.45a8.1 8.1 0 1 0 16.2 0a8.1 8.1 0 1 0 -16.2 0M552.29 1164.44a8.1 8.1 0 1 0 16.2 0a8.1 8.1 0 1 0 -16.2 0M579.01 1133.68a8.1 8.1 0 1 0 16.2 0a8.1 8.1 0 1 0 -16.2 0M605.74 1105.49a8.1 8.1 0 1 0 16.2 0a8.1 8.1 0 1 0 -16.2 0M632.47 1074.09a8.1 8.1 0 1 0 16.2 0a8.1 8.1 0 1 0 -16.2 0M659.19 1049.74a8.1 8.1 0 1 0 16.2 0a8.1 8.1 0 1 0 -16.2 0M685.92 1022.83a8.1 8.1 0 1 0 16.2 0a8.1 8.1 0 1 0 -16.2 0M712.65 994a8.1 8.1 0 1 0 16.2 0a8.1 8.1 0 1 0 -16.2 0M739.37 972.86a8.1 8.1 0 1 0 16.2 0a8.1 8.1 0 1 0 -16.2 0M766.1 945.94a8.1 8.1 0 1 0 16.2 0a8.1 8.1 0 1 0 -16.2 0M792.83 918.39a8.1 8.1 0 1 0 16.2 0a8.1 8.1 0 1 0 -16.2 0M819.56 887.64a8.1 8.1 0 1 0 16.2 0a8.1 8.1 0 1 0 -16.2 0M846.28 859.44a8.1 8.1 0 1 0 16.2 0a8.1 8.1 0 1 0 -16.2 0M873.01 801.13a8.1 8.1 0 1 0 16.2 0a8.1 8.1 0 1 0 -16.2 0M899.74 760.13a8.1 8.1 0 1 0 16.2 0a8.1 8.1 0 1 0 -16.2 0M926.46 760.13a8.1 8.1 0 1 0 16.2 0a8.1 8.1 0 1 0 -16.2 0M953.19 760.13a8.1 8.1 0 1 0 16.2 0a8.1 8.1 0 1 0 -16.2 0M979.92 760.13a8.1 8.1 0 1 0 16.2 0a8.1 8.1 0 1 0 -16.2 0M1006.64 760.13a8.1 8.1 0 1 0 16.2 0a8.1 8.1 0 1 0 -16.2 0" stroke-width="3.8"/></g>
<g stroke="#ff0000" fill="none" stroke-width="3.5"><path d="M715.9 1055H800.8 M758.8 1039.4V1070.6 M750.2 1039.4H767.4 M750.2 1070.6H767.4"/><circle cx="758.8" cy="1055" r="8.1" stroke-width="3.8"/></g>
<text x="806.75" y="1062.9" textLength="25.33" lengthAdjust="spacingAndGlyphs" style="font-size:35px;fill:#000">N</text>
<text x="831.78" y="1068" textLength="12.75" lengthAdjust="spacingAndGlyphs" style="font-size:24px;fill:#000">2</text>
<text x="855.59" y="1062.9" textLength="12.56" lengthAdjust="spacingAndGlyphs" style="font-size:35px;fill:#000">-</text>
<text x="878.87" y="1062.9" textLength="76.33" lengthAdjust="spacingAndGlyphs" style="font-size:35px;fill:#000">6.8ns</text>
<g stroke="#0000ff" fill="none" stroke-width="3.5"><path d="M715.9 1096.38H800.8 M758.8 1080.78V1111.97 M750.2 1080.78H767.4 M750.2 1111.97H767.4"/><circle cx="758.8" cy="1096.38" r="8.1" stroke-width="3.8"/></g>
<text x="806.75" y="1104.28" textLength="25.33" lengthAdjust="spacingAndGlyphs" style="font-size:35px;fill:#000">N</text>
<text x="831.78" y="1109.38" textLength="12.75" lengthAdjust="spacingAndGlyphs" style="font-size:24px;fill:#000">2</text>
<text x="855.59" y="1104.28" textLength="12.56" lengthAdjust="spacingAndGlyphs" style="font-size:35px;fill:#000">-</text>
<text x="879.53" y="1104.28" textLength="103.99" lengthAdjust="spacingAndGlyphs" style="font-size:35px;fill:#000">2S.40D</text>
<g stroke="#000000" fill="none" stroke-width="3.5"><path d="M715.9 1137.75H800.8 M758.8 1122.15V1153.35 M750.2 1122.15H767.4 M750.2 1153.35H767.4"/><circle cx="758.8" cy="1137.75" r="8.1" stroke-width="3.8"/></g>
<text x="806.75" y="1145.65" textLength="25.33" lengthAdjust="spacingAndGlyphs" style="font-size:35px;fill:#000">N</text>
<text x="831.78" y="1150.75" textLength="12.75" lengthAdjust="spacingAndGlyphs" style="font-size:24px;fill:#000">2</text>
<text x="855.59" y="1145.65" textLength="12.56" lengthAdjust="spacingAndGlyphs" style="font-size:35px;fill:#000">-</text>
<text x="879.53" y="1145.65" textLength="103.99" lengthAdjust="spacingAndGlyphs" style="font-size:35px;fill:#000">3S.40D</text>
<g stroke="#56b447" fill="none" stroke-width="3.5"><path d="M715.9 1179.12H800.8 M758.8 1163.53V1194.72 M750.2 1163.53H767.4 M750.2 1194.72H767.4"/><circle cx="758.8" cy="1179.12" r="8.1" stroke-width="3.8"/></g>
<text x="806.75" y="1187.03" textLength="25.33" lengthAdjust="spacingAndGlyphs" style="font-size:35px;fill:#000">N</text>
<text x="831.78" y="1192.12" textLength="12.75" lengthAdjust="spacingAndGlyphs" style="font-size:24px;fill:#000">2</text>
<text x="855.59" y="1187.03" textLength="12.56" lengthAdjust="spacingAndGlyphs" style="font-size:35px;fill:#000">-</text>
<text x="879.53" y="1187.03" textLength="103.99" lengthAdjust="spacingAndGlyphs" style="font-size:35px;fill:#000">4S.40D</text>
<g stroke="#f89c0e" fill="none" stroke-width="3.5"><path d="M715.9 1220.5H800.8 M758.8 1204.9V1236.1 M750.2 1204.9H767.4 M750.2 1236.1H767.4"/><circle cx="758.8" cy="1220.5" r="8.1" stroke-width="3.8"/></g>
<text x="806.75" y="1228.4" textLength="25.33" lengthAdjust="spacingAndGlyphs" style="font-size:35px;fill:#000">N</text>
<text x="831.78" y="1233.5" textLength="12.75" lengthAdjust="spacingAndGlyphs" style="font-size:24px;fill:#000">2</text>
<text x="855.59" y="1228.4" textLength="12.56" lengthAdjust="spacingAndGlyphs" style="font-size:35px;fill:#000">-</text>
<text x="879.53" y="1228.4" textLength="103.99" lengthAdjust="spacingAndGlyphs" style="font-size:35px;fill:#000">5S.40D</text>
<text x="471.48" y="1354.2" textLength="84.76" lengthAdjust="spacingAndGlyphs" style="font-size:39.5px;fill:#262626">Time</text>
<text x="570.39" y="1357.76" textLength="7.68" lengthAdjust="spacingAndGlyphs" style="font-size:46.46px;fill:#262626">[</text>
<text x="577.99" y="1354.1" textLength="36" lengthAdjust="spacingAndGlyphs" style="font-size:37.4px;fill:#262626">ns</text>
<text x="612.99" y="1357.76" textLength="7.57" lengthAdjust="spacingAndGlyphs" style="font-size:46.46px;fill:#262626">]</text>
<text transform="translate(28.6 1247.84) rotate(-90)" textLength="146.52" lengthAdjust="spacingAndGlyphs" style="font-size:41px;fill:#262626">Streamer</text>
<text transform="translate(28.6 1087.41) rotate(-90)" textLength="77.33" lengthAdjust="spacingAndGlyphs" style="font-size:41px;fill:#262626">head</text>
<text transform="translate(28.6 999.29) rotate(-90)" textLength="128.1" lengthAdjust="spacingAndGlyphs" style="font-size:41px;fill:#262626">position</text>
<text transform="translate(28.6 856.79) rotate(-90)" textLength="78.94" lengthAdjust="spacingAndGlyphs" style="font-size:41px;fill:#262626">[mm]</text>
<text x="481.68" y="1416" textLength="12.68" lengthAdjust="spacingAndGlyphs" style="font-size:41px;fill:#000">(</text>
<text x="517.97" y="1416" textLength="12.56" lengthAdjust="spacingAndGlyphs" style="font-size:41px;fill:#000">)</text>
<text x="496.2" y="1416" textLength="21.41" lengthAdjust="spacingAndGlyphs" style="font-size:37px;fill:#000">b</text>
</svg>
</body></html>
